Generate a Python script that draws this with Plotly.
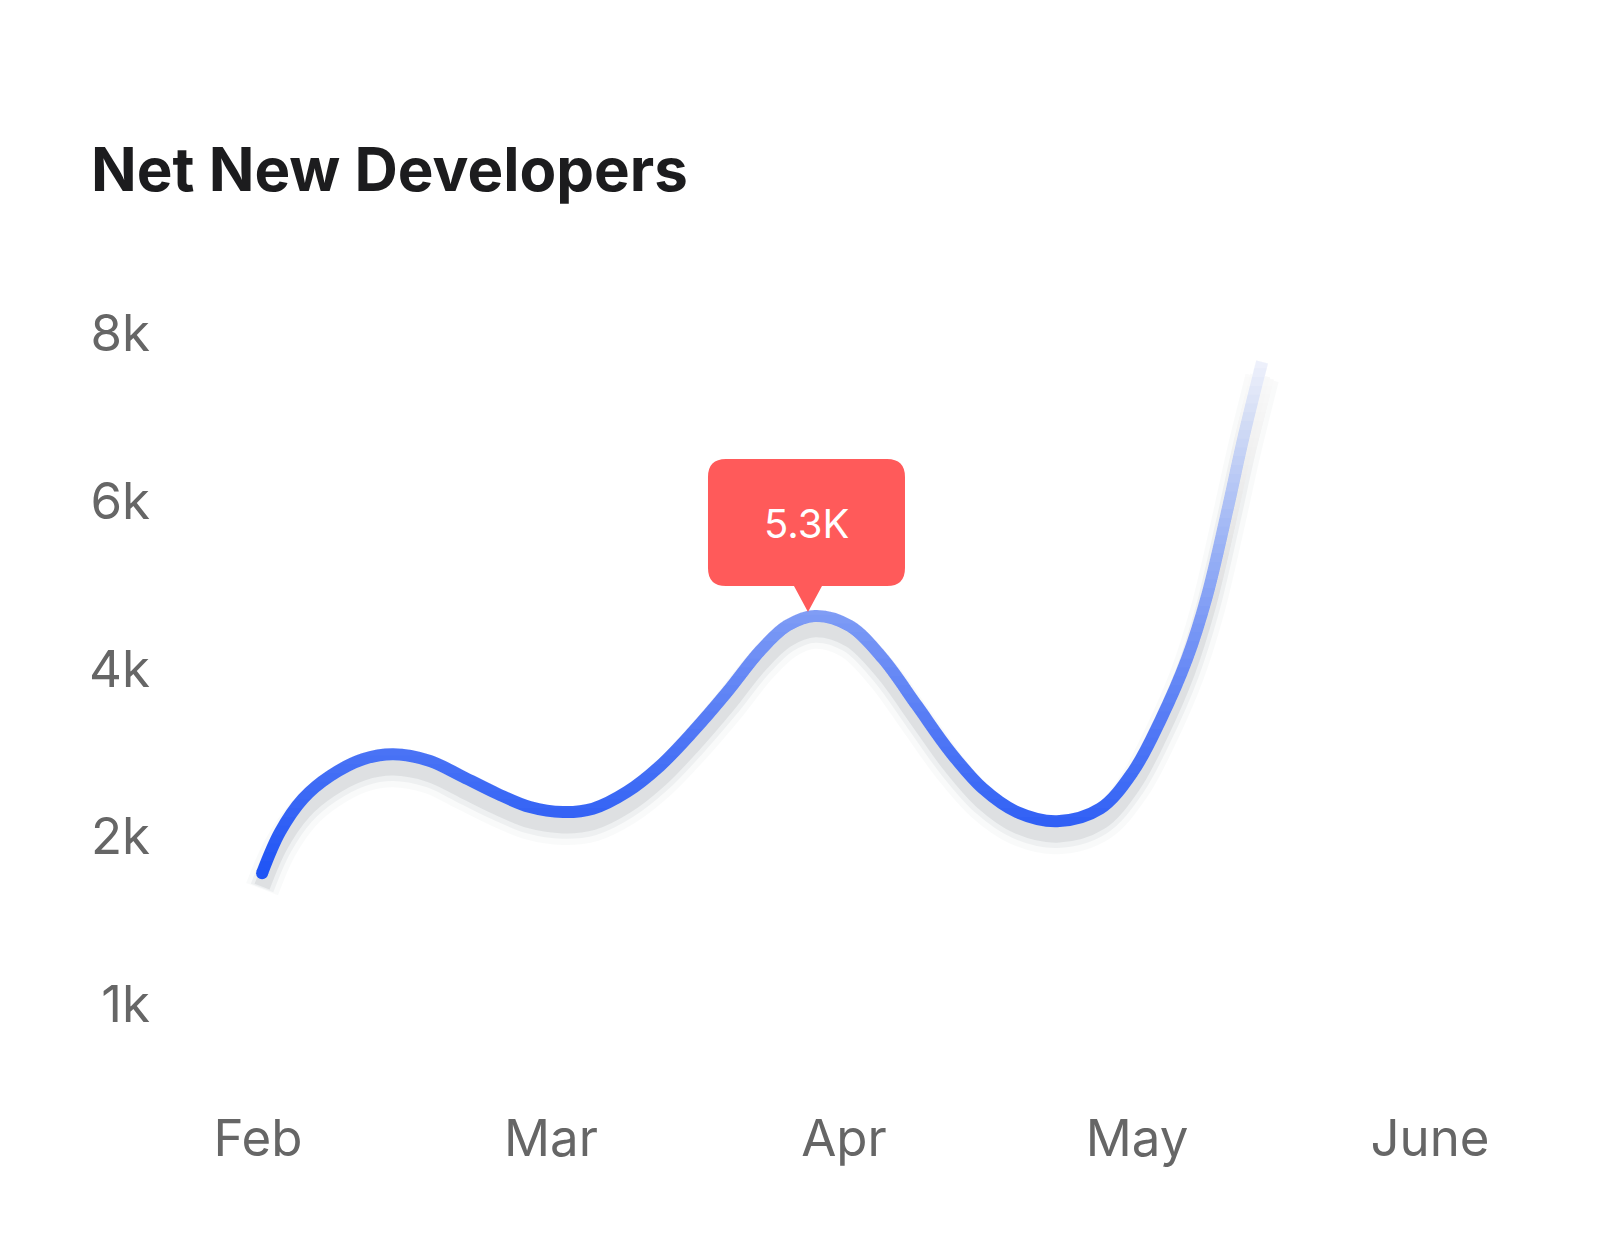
import numpy as np
import plotly.graph_objects as go

# axis labels
months = ["Feb", "Mar", "Apr", "May", "June"]
level_labels = ["1k", "2k", "4k", "6k", "8k"]
level_values = [1, 2, 4, 6, 8]

# curve: month position (0 = Feb) and value in k
curve_month = [0.014, 0.075, 0.154, 0.246, 0.358, 0.461, 0.587, 0.700, 0.816, 0.928,
               1.041, 1.143, 1.259, 1.372, 1.485, 1.601, 1.713, 1.805, 1.901, 2.020,
               2.133, 2.249, 2.362, 2.474, 2.590, 2.727, 2.874, 2.986, 3.078, 3.171,
               3.239, 3.307, 3.362, 3.427]
curve_k = [1.78, 2.05, 2.45, 2.72, 2.92, 2.98, 2.90, 2.71, 2.51, 2.35,
           2.29, 2.33, 2.53, 2.84, 3.25, 3.72, 4.21, 4.51, 4.63, 4.51,
           4.12, 3.56, 3.01, 2.57, 2.29, 2.18, 2.33, 2.77, 3.37, 4.12,
           4.87, 5.87, 6.74, 7.66]

peak_label = "5.3K"
peak_idx = 18

BLUE = "#1f54f5"
RED = "#ff5a5a"

# y axis is drawn with evenly spaced levels (1k, 2k, 4k, 6k, 8k)
level_pos = list(range(len(level_values)))
y_pos = np.interp(curve_k, level_values, level_pos)

fig = go.Figure()

# soft drop shadow under the line
for width, alpha, off in [(34, 0.04, 0.095), (24, 0.07, 0.088), (16, 0.12, 0.08)]:
    fig.add_trace(go.Scatter(
        x=curve_month, y=y_pos - off, mode="lines",
        line=dict(color=f"rgba(105,115,125,{alpha})", width=width, shape="spline", smoothing=1.0),
        hoverinfo="skip", showlegend=False,
    ))

fig.add_trace(go.Scatter(
    x=curve_month, y=y_pos, mode="lines",
    line=dict(color=BLUE, width=12, shape="spline", smoothing=1.0),
    hoverinfo="skip", showlegend=False,
))
# rounded start cap
fig.add_trace(go.Scatter(
    x=curve_month[:1], y=y_pos[:1], mode="markers",
    marker=dict(color=BLUE, size=12), hoverinfo="skip", showlegend=False,
))

# fade the line towards white as it goes up (stacked translucent white bands)
shapes = []
n = 60
lo, hi = 0.8, 3.95
w_max = 0.97
prev = 0.0
for k in range(1, n + 1):
    w = w_max * k / n
    a = 1 - (1 - w) / (1 - prev)
    prev = w
    shapes.append(dict(
        type="rect", xref="paper", x0=0, x1=1, yref="y",
        y0=lo + (hi - lo) * (k - 1) / n, y1=4.3,
        fillcolor="white", opacity=a, line=dict(width=0), layer="above",
    ))

# tooltip bubble anchored on the peak
px, py = curve_month[peak_idx], y_pos[peak_idx]
bubble = ("M -7,4 L 7,30 L 72,30 Q 90,30 90,48 L 90,139 Q 90,157 72,157 "
          "L -89,157 Q -107,157 -107,139 L -107,48 Q -107,30 -89,30 L -21,30 Z")
shapes.append(dict(
    type="path", path=bubble, xref="x", yref="y",
    xsizemode="pixel", ysizemode="pixel", xanchor=px, yanchor=py,
    fillcolor=RED, line=dict(width=0), layer="above",
))

fig.add_annotation(
    x=px, y=py, xref="x", yref="y", text=peak_label, showarrow=False,
    xshift=-8, yshift=92,
    font=dict(family="Inter", size=40, color="white"),
)

fig.update_layout(
    width=1600, height=1258,
    margin=dict(l=177, r=38, t=291, b=162),
    paper_bgcolor="white", plot_bgcolor="white",
    shapes=shapes,
    title=dict(
        text="<b>Net New Developers</b>", xref="container", yref="container",
        x=83 / 1600, xanchor="left", y=1 - 162 / 1258, yanchor="middle",
        font=dict(family="Inter", size=60, color="#1c1c1e"),
    ),
    xaxis=dict(
        range=[-0.2491, 4.4778], tickvals=list(range(len(months))), ticktext=months,
        showgrid=False, zeroline=False, showline=False, ticks="",
        tickfont=dict(family="Inter", size=51, color="#666666"),
    ),
    yaxis=dict(
        range=[-0.597, 4.206], tickvals=level_pos, ticktext=level_labels,
        showgrid=False, zeroline=False, showline=False, ticks="",
        ticklabelstandoff=34,
        tickfont=dict(family="Inter", size=51, color="#666666"),
    ),
)

fig.write_html("out.html")
